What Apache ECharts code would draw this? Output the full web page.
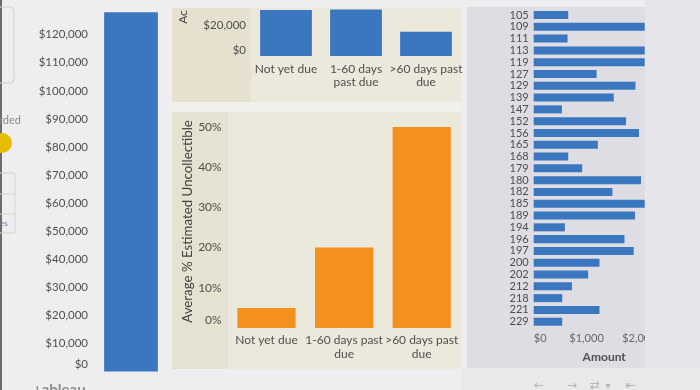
<!DOCTYPE html>
<html><head><meta charset="utf-8">
<script src="https://cdn.jsdelivr.net/npm/echarts@6/dist/echarts.min.js"></script>
<style>html,body{margin:0;padding:0;background:#ededef;}#c{width:700px;height:390px;}</style>
</head><body><div id="c"></div>
<script>
// ---- data ----
const totalCategories = ['Total'];
const totalAmount = [128000];
const totalTickMax = 120000;

const agingCategories = ['Not yet due', '1-60 days past due', '>60 days past due'];
const agingAmount = [30400, 30600, 16000];
const uncollectiblePct = [0.05, 0.20, 0.50];

const customerIds = ['105','109','111','113','119','127','129','139','147','152','156','165','168','179','180','182','185','189','194','196','197','200','202','212','218','221','229'];
const customerAmount = [653,2400,641,2400,2400,1190,1925,1515,534,1747,1992,1213,653,917,2030,1490,2400,1917,590,1717,1892,1245,1030,723,540,1245,540];

// ---- helpers ----
const FONT = 'Lato';
const TXT = '#4f4f4f';
const BLUE = '#3b77bf';
const ORANGE = '#f4901e';
function money(v){ return '$' + Math.round(v).toLocaleString('en-US'); }
function wrap(s, n){
  const w = s.split(' '); const lines = []; let cur = '';
  for (const x of w){
    if (!cur) cur = x;
    else if ((cur + ' ' + x).length <= n) cur += ' ' + x;
    else { lines.push(cur); cur = x; }
  }
  lines.push(cur); return lines.join('\n');
}
const lbl = (size) => ({fontFamily: FONT, fontSize: size, color: TXT});

const chart = echarts.init(document.getElementById('c'), null, {renderer: 'canvas'});

const option = {
  animation: false,
  backgroundColor: 'transparent',
  grid: [
    {left: 103, width: 56, top: 6.6, height: 364.9, outerBoundsMode: 'none'},
    {left: 251, width: 210, top: 9, height: 47, outerBoundsMode: 'none'},
    {left: 227.7, width: 232.8, top: 115, height: 213, outerBoundsMode: 'none'},
    {left: 533.7, width: 111, top: 9.1, height: 318.5, outerBoundsMode: 'none'}
  ],
  xAxis: [
    {gridIndex: 0, type: 'category', data: totalCategories, show: false},
    {gridIndex: 1, type: 'category', data: agingCategories,
      axisLine: {show: false}, axisTick: {show: false},
      axisLabel: Object.assign(lbl(12), {interval: 0, margin: 7, lineHeight: 13,
        formatter: v => wrap(v, 13)})},
    {gridIndex: 2, type: 'category', data: agingCategories,
      axisLine: {show: false}, axisTick: {show: false},
      axisLabel: Object.assign(lbl(12), {interval: 0, margin: 5, lineHeight: 14,
        formatter: v => wrap(v, 14)})},
    {gridIndex: 3, type: 'value', min: 0, max: 2100, interval: 1000,
      axisLine: {show: false}, axisTick: {show: false}, splitLine: {show: false},
      axisLabel: Object.assign(lbl(11), {color: '#666', margin: 5,
        formatter: v => v === 0 ? '{z|$0}' : money(v),
        rich: {z: {fontFamily: FONT, fontSize: 11, color: '#666', padding: [0, 0, 0, 13]}}}),
      name: 'Amount', nameLocation: 'middle', nameGap: 24,
      nameTextStyle: {fontFamily: FONT, fontSize: 12, fontWeight: 'bold', color: '#505050', padding: [0, 0, 0, 30]}}
  ],
  yAxis: [
    {gridIndex: 0, type: 'value', min: 0, max: 130000, interval: 10000,
      axisLine: {show: false}, axisTick: {show: false}, splitLine: {show: false},
      axisLabel: Object.assign(lbl(11.5), {margin: 15,
        formatter: v => v > totalTickMax ? '' : (v === 0 ? '{z|$0}' : money(v)),
        rich: {z: {fontFamily: FONT, fontSize: 11.5, color: TXT, padding: [0, 0, 14, 0]}}})},
    {gridIndex: 1, type: 'value', min: 0, max: 31000, interval: 20000,
      axisLine: {show: false}, axisTick: {show: false}, splitLine: {show: false},
      axisLabel: Object.assign(lbl(11.5), {margin: 5,
        formatter: v => (v % 20000) ? '' : (v === 0 ? '{z|$0}' : money(v)),
        rich: {z: {fontFamily: FONT, fontSize: 11.5, color: TXT, padding: [0, 0, 12, 0]}}})},
    {gridIndex: 2, type: 'value', min: 0, max: 0.53, interval: 0.1,
      axisLine: {show: false}, axisTick: {show: false}, splitLine: {show: false},
      axisLabel: Object.assign(lbl(12), {margin: 6,
        formatter: v => v > 0.5001 ? '' : (v === 0 ? '{z|0%}' : Math.round(v * 100) + '%'),
        rich: {z: {fontFamily: FONT, fontSize: 12, color: TXT, padding: [0, 0, 16, 0]}}}),
      name: 'Average % Estimated Uncollectible', nameLocation: 'middle', nameGap: 32,
      nameTextStyle: {fontFamily: FONT, fontSize: 13.3, color: '#3f3f3f'}},
    {gridIndex: 3, type: 'category', data: customerIds, inverse: true,
      axisLine: {show: false}, axisTick: {show: false},
      axisLabel: Object.assign(lbl(11), {interval: 0, margin: 5})}
  ],
  series: [
    {type: 'bar', xAxisIndex: 0, yAxisIndex: 0, data: totalAmount, barWidth: '96%', itemStyle: {color: BLUE}},
    {type: 'bar', xAxisIndex: 1, yAxisIndex: 1, data: agingAmount, barWidth: '74%', itemStyle: {color: BLUE}, clip: true},
    {type: 'bar', xAxisIndex: 2, yAxisIndex: 2, data: uncollectiblePct, barWidth: '75%', itemStyle: {color: ORANGE}},
    {type: 'bar', xAxisIndex: 3, yAxisIndex: 3, data: customerAmount, barWidth: '68%', itemStyle: {color: BLUE}, clip: true}
  ],
  graphic: [
    // panel backgrounds
    {type: 'rect', z: -20, shape: {x: 0, y: 0, width: 700, height: 390}, style: {fill: '#eeeef0'}},
    {type: 'rect', z: -19, shape: {x: 0, y: 0, width: 2, height: 390}, style: {fill: '#6b6b6b'}},
    {type: 'rect', z: -19, shape: {x: 172, y: 8, width: 289, height: 94}, style: {fill: '#e5e1ce'}},
    {type: 'rect', z: -18, shape: {x: 251, y: 8, width: 210, height: 94}, style: {fill: '#ebe8dc'}},
    {type: 'rect', z: -19, shape: {x: 172, y: 102, width: 289, height: 10}, style: {fill: '#f1f0ea'}},
    {type: 'rect', z: -19, shape: {x: 172, y: 112, width: 289, height: 257}, style: {fill: '#e6e2d1'}},
    {type: 'rect', z: -18, shape: {x: 228, y: 112, width: 233, height: 257}, style: {fill: '#ebe8dc'}},
    {type: 'rect', z: -19, shape: {x: 467, y: 7, width: 178, height: 361}, style: {fill: '#dddde3'}},
    {type: 'rect', z: -19, shape: {x: 461, y: 368, width: 239, height: 22}, style: {fill: '#e9e9ec'}},
    // clip region to the right of the customer pane
    {type: 'rect', z: 50, shape: {x: 645, y: 0, width: 55, height: 368}, style: {fill: '#e6e6ea'}},
    // left dashboard fragments
    {type: 'rect', z: -10, shape: {x: -6, y: 7, width: 20, height: 76, r: 4}, style: {fill: 'none', stroke: '#d3d3d6', lineWidth: 1}},
    {type: 'text', z: -10, x: -1, y: 120, style: {text: 'rded', fill: '#8a8a8a', font: '11px Lato', verticalAlign: 'middle'}},
    {type: 'circle', z: -10, shape: {cx: 2, cy: 143, r: 10}, style: {fill: '#e5bc00'}},
    {type: 'rect', z: -10, shape: {x: -6, y: 173, width: 21, height: 60, r: 2}, style: {fill: 'none', stroke: '#d3d3d6', lineWidth: 1}},
    {type: 'line', z: -10, shape: {x1: 0, y1: 194, x2: 15, y2: 194}, style: {stroke: '#d3d3d6', lineWidth: 1}},
    {type: 'line', z: -10, shape: {x1: 0, y1: 214, x2: 15, y2: 214}, style: {stroke: '#d3d3d6', lineWidth: 1}},
    {type: 'text', z: -10, x: 0, y: 223, style: {text: 'es', fill: '#6a7fa8', font: '8px Lato', verticalAlign: 'middle'}},
    {type: 'text', z: -10, x: 33, y: 383, style: {text: '+ableau', fill: '#8c8c8c', font: 'bold 15px Lato', verticalAlign: 'top'}},
    // rotated clipped sheet title
    {type: 'text', z: 5, x: 183, y: 17, rotation: Math.PI / 2, style: {text: 'Ac', fill: '#444', font: '12px Lato', align: 'center', verticalAlign: 'middle'}},
    // toolbar icons
    {type: 'text', z: 5, x: 539, y: 386, style: {text: '←', fill: '#b4b4b8', font: '12px "DejaVu Sans"', align: 'center', verticalAlign: 'middle'}},
    {type: 'text', z: 5, x: 572, y: 386, style: {text: '→', fill: '#b4b4b8', font: '12px "DejaVu Sans"', align: 'center', verticalAlign: 'middle'}},
    {type: 'text', z: 5, x: 595, y: 386, style: {text: '⇄', fill: '#b4b4b8', font: '12px "DejaVu Sans"', align: 'center', verticalAlign: 'middle'}},
    {type: 'text', z: 5, x: 608, y: 386, style: {text: '▾', fill: '#b4b4b8', font: '10px "DejaVu Sans"', align: 'center', verticalAlign: 'middle'}},
    {type: 'text', z: 5, x: 630, y: 386, style: {text: '⇤', fill: '#b4b4b8', font: '12px "DejaVu Sans"', align: 'center', verticalAlign: 'middle'}}
  ]
};
chart.setOption(option);
</script>
</body></html>
